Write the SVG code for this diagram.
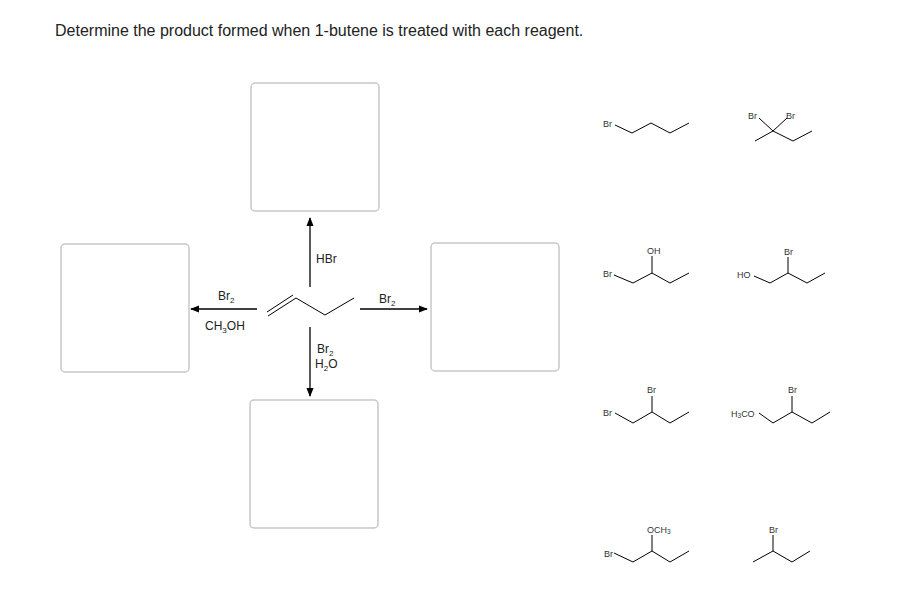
<svg xmlns="http://www.w3.org/2000/svg" width="910" height="597" viewBox="0 0 910 597">
<style>
.box{fill:#fff;stroke:#c8c8c8;stroke-width:1.5}
.b{fill:none;stroke:#000;stroke-width:1}
.s{font-family:"Liberation Sans",Arial,sans-serif;font-size:9px;fill:#333}
.r{font-family:"Liberation Sans",Arial,sans-serif;font-size:12px;fill:#222}
.a{stroke:#000;stroke-width:1.3;fill:none}
</style>
<defs><marker id="ah" viewBox="0 0 10 10" refX="9" refY="5" markerWidth="9" markerHeight="9" markerUnits="userSpaceOnUse" orient="auto"><path d="M0,1 L10,5 L0,9 Z" fill="#000"/></marker></defs>
<rect width="910" height="597" fill="#fff"/>
<text x="55" y="36" font-family="Liberation Sans,Arial,sans-serif" font-size="16" fill="#222">Determine the product formed when 1-butene is treated with each reagent.</text>
<g id="box-top"><rect class="box" x="251" y="83" width="128" height="128" rx="4"/></g>
<g id="box-left"><rect class="box" x="61" y="244" width="128" height="128" rx="4"/></g>
<g id="box-right"><rect class="box" x="431" y="243" width="128" height="128" rx="4"/></g>
<g id="box-bottom"><rect class="box" x="250" y="400" width="128" height="128" rx="4"/></g>
<g id="butene">
<path class="b" d="M268,316 L296,298 L325,315 L354,298"/>
<path class="b" d="M267,312 L293,295"/>
</g>
<g id="connectors">
<line class="a" x1="310" y1="287" x2="310" y2="218" marker-end="url(#ah)"/>
<line class="a" x1="257" y1="309" x2="191" y2="309" marker-end="url(#ah)"/>
<line class="a" x1="360" y1="309" x2="427" y2="309" marker-end="url(#ah)"/>
<line class="a" x1="310" y1="327" x2="310" y2="396" marker-end="url(#ah)"/>
</g>
<g id="labels">
<text class="r" x="316" y="263">HBr</text>
<text class="r" x="218" y="300">Br<tspan font-size="8" dy="3">2</tspan></text>
<text class="r" x="205" y="330">CH<tspan font-size="8" dy="3">3</tspan><tspan dy="-3">OH</tspan></text>
<text class="r" x="379" y="303">Br<tspan font-size="8" dy="3">2</tspan></text>
<text class="r" x="317" y="353">Br<tspan font-size="8" dy="3">2</tspan></text>
<text class="r" x="315" y="368">H<tspan font-size="8" dy="3">2</tspan><tspan dy="-3">O</tspan></text>
</g>
<g id="mol1"><text class="s" x="603" y="127">Br</text><path class="b" d="M615,125 L632,133 L651,123 L670,133 L689,123"/></g>
<g id="mol2"><text class="s" x="748" y="119">Br</text><text class="s" x="786" y="119">Br</text><path class="b" d="M755,141 L773,131 L793,141 L812,131 M759,118 L773,131 L787,118"/></g>
<g id="mol3"><text class="s" x="647" y="254">OH</text><text class="s" x="603" y="277">Br</text><path class="b" d="M614,275 L633,283 L652,273 L670,283 L689,273 M652,273 L652,256"/></g>
<g id="mol4"><text class="s" x="737" y="278">HO</text><text class="s" x="784" y="255">Br</text><path class="b" d="M754,276 L770,283 L788,273 L807,283 L825,273 M788,273 L788,257"/></g>
<g id="mol5"><text class="s" x="603" y="416">Br</text><text class="s" x="647" y="393">Br</text><path class="b" d="M615,413 L633,423 L652,412 L670,423 L689,412 M652,412 L652,396"/></g>
<g id="mol6"><text class="s" x="731" y="417">H<tspan font-size="6.5" dy="1">3</tspan><tspan dy="-1">CO</tspan></text><text class="s" x="788" y="393">Br</text><path class="b" d="M759,413 L773,423 L792,412 L812,423 L830,412 M792,412 L792,396"/></g>
<g id="mol7"><text class="s" x="647" y="533">OCH<tspan font-size="6.5" dy="1">3</tspan></text><text class="s" x="604" y="557">Br</text><path class="b" d="M614,553 L633,562 L652,551 L670,562 L689,551 M652,551 L652,535"/></g>
<g id="mol8"><text class="s" x="769" y="533">Br</text><path class="b" d="M753,562 L773,551 L792,562 L810,551 M773,551 L773,535"/></g>
</svg>
